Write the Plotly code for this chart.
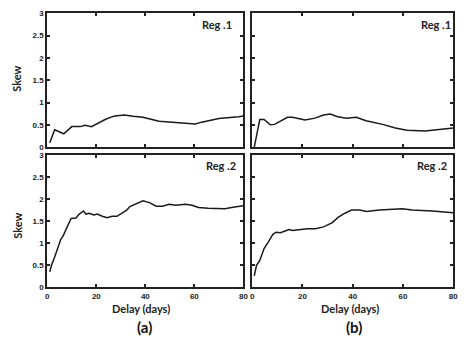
import plotly.graph_objects as go

# Reg.1, case (a)
reg1_a_delay = [1, 3, 6.7, 10, 13.4, 15.4, 18, 20, 24, 27.5, 31.5, 35, 39, 45.6, 53.7, 60.4, 63, 70, 78, 80]
reg1_a_skew = [0.10, 0.39, 0.30, 0.46, 0.46, 0.49, 0.46, 0.52, 0.63, 0.70, 0.72, 0.69, 0.67, 0.58, 0.54, 0.52, 0.56, 0.64, 0.68, 0.70]

# Reg.1, case (b)
reg1_b_delay = [0.8, 3, 4.7, 5.6, 7.2, 8.9, 11.5, 14, 16, 18.6, 21, 25, 28.4, 31, 34, 37.5, 41.4, 45.3, 51.9, 57, 61.6, 68.8, 74, 80]
reg1_b_skew = [0.0, 0.62, 0.62, 0.58, 0.50, 0.51, 0.59, 0.67, 0.67, 0.63, 0.61, 0.65, 0.72, 0.74, 0.68, 0.65, 0.67, 0.59, 0.51, 0.43, 0.38, 0.36, 0.39, 0.43]

# Reg.2, case (a)
reg2_a_delay = [1, 1.7, 3, 4.4, 5.5, 6.4, 7.7, 8.4, 9.7, 11.7, 13, 14.8, 15.7, 17, 19, 20.4, 22.4, 24.4, 26.4, 28.4,
                30.4, 32.4, 33.7, 36.4, 39, 41.7, 44.4, 47, 49.7, 52.4, 56.4, 59, 61.7, 65.7, 72.4, 76.4, 80]
reg2_a_skew = [0.35, 0.50, 0.69, 0.91, 1.09, 1.16, 1.31, 1.39, 1.56, 1.57, 1.66, 1.73, 1.66, 1.68, 1.64, 1.66, 1.61, 1.58, 1.61, 1.61,
               1.68, 1.75, 1.83, 1.90, 1.96, 1.92, 1.84, 1.84, 1.88, 1.86, 1.88, 1.86, 1.81, 1.79, 1.78, 1.82, 1.85]

# Reg.2, case (b)
reg2_b_delay = [0.8, 1.7, 3, 4.7, 6.3, 8.2, 9.5, 11.2, 12.8, 14.7, 16, 18.6, 21.9, 25.1, 28.4, 31.7, 34.3, 36.9, 39.5,
                42.8, 45.4, 50.6, 57.2, 59.7, 63.7, 71.6, 80]
reg2_b_skew = [0.26, 0.50, 0.61, 0.88, 1.02, 1.20, 1.25, 1.24, 1.27, 1.31, 1.29, 1.31, 1.33, 1.33, 1.37, 1.46, 1.59, 1.68, 1.75,
               1.75, 1.72, 1.75, 1.78, 1.78, 1.75, 1.73, 1.69]

x_ticks = [0, 20, 40, 60, 80]
y_ticks = [0, 0.5, 1, 1.5, 2, 2.5, 3]
y_tick_text = ["0", "0.5", "1", "1.5", "2", "2.5", "3"]

W, H = 474, 343


def px_x(p):
    return p / W


def px_y(p):
    return 1 - p / H


col_domains = [[px_x(46), px_x(245)], [px_x(254), px_x(458)]]
row_domains = [[px_y(147), px_y(9.5)], [px_y(291), px_y(155)]]

panels = [
    (reg1_a_delay, reg1_a_skew, 0, 0, "Reg .1", 218),
    (reg1_b_delay, reg1_b_skew, 0, 1, "Reg .1", 440),
    (reg2_a_delay, reg2_a_skew, 1, 0, "Reg .2", 222),
    (reg2_b_delay, reg2_b_skew, 1, 1, "Reg .2", 436),
]

tick_font = dict(family="Liberation Sans, Arial", size=8, color="#222", weight="bold")
title_font = dict(family="Lato, Open Sans", size=11, color="#222", weight="bold")

fig = go.Figure()
layout = dict(
    width=W, height=H,
    margin=dict(l=0, r=0, t=0, b=0),
    paper_bgcolor="white", plot_bgcolor="white",
    showlegend=False,
)
annotations = []


def note(text, cx, cy, font, angle=0):
    return dict(text=text, x=px_x(cx), y=px_y(cy), xref="paper", yref="paper",
                xanchor="center", yanchor="middle", showarrow=False,
                textangle=angle, font=font)


for i, (xs, ys, row, col, label, lx) in enumerate(panels):
    n = i + 1
    xa = "x" if n == 1 else f"x{n}"
    ya = "y" if n == 1 else f"y{n}"
    fig.add_trace(go.Scatter(x=xs, y=ys, mode="lines", xaxis=xa, yaxis=ya,
                             line=dict(color="#1a1a1a", width=1.5)))
    xkey = "xaxis" if n == 1 else f"xaxis{n}"
    ykey = "yaxis" if n == 1 else f"yaxis{n}"
    layout[xkey] = dict(
        domain=col_domains[col], anchor=ya, range=[0, 80],
        tickvals=x_ticks, showticklabels=(row == 1),
        ticks="inside", ticklen=3, tickwidth=1.5, tickcolor="#222",
        showline=True, linewidth=2, linecolor="#222", mirror="allticks",
        showgrid=False, zeroline=False, tickfont=tick_font,
    )
    layout[ykey] = dict(
        domain=row_domains[row], anchor=xa, range=[0, 3],
        tickvals=y_ticks, ticktext=y_tick_text, showticklabels=(col == 0),
        ticks="inside", ticklen=3, tickwidth=1.5, tickcolor="#222",
        showline=True, linewidth=2, linecolor="#222", mirror="allticks",
        showgrid=False, zeroline=False, tickfont=tick_font,
    )
    ly = 21 if row == 0 else 166
    annotations.append(note(label, lx, ly, title_font))

# axis titles and panel letters
letter_font = dict(family="Lato, Open Sans", size=15, color="#111", weight="bold")
for cx, letter in [(141, "(a)"), (353, "(b)")]:
    annotations.append(note("Delay (days)", cx, 313, title_font))
    annotations.append(note(letter, cx + 4, 332, letter_font))
for cy in [77, 228]:
    annotations.append(note("Skew", 15, cy, title_font, angle=-90))

layout["annotations"] = annotations
fig.update_layout(**layout)
fig.write_html("out.html")
